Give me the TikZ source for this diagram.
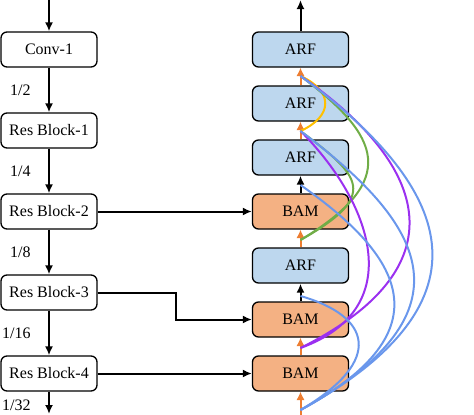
\documentclass[tikz,border=0pt]{standalone}
\usepackage{fontspec}
\setmainfont{Liberation Serif}
\usetikzlibrary{arrows.meta}

\definecolor{arfblue}{HTML}{BDD7EE}
\definecolor{bamorange}{HTML}{F4B183}
\definecolor{fuse}{HTML}{ED7D31}
\definecolor{linkblue}{HTML}{6A97EC}
\definecolor{linkpurple}{HTML}{9B30F0}
\definecolor{linkgreen}{HTML}{70AD47}
\definecolor{linkyellow}{HTML}{FFC000}

\begin{document}
\begin{tikzpicture}[x=1pt, y=-1pt,
  block/.style={draw, line width=1.3pt, rounded corners=6pt, minimum width=96pt,
    minimum height=35pt, inner sep=0pt, font=\fontsize{16}{18}\selectfont},
  arf/.style={block, fill=arfblue},
  bam/.style={block, fill=bamorange},
  flow/.style={line width=2pt, -{Latex[length=9pt,width=8pt]}},
  fuseflow/.style={fuse, line width=2pt, -{Latex[length=8.5pt,width=8.5pt]}},
  link/.style={line width=2pt},
  ratio/.style={left=14pt, font=\fontsize{16}{18}\selectfont}]
\useasboundingbox (0,0) rectangle (474,415);

% backbone
\node[block] (conv) at (49,49.5) {Conv-1};
\node[block] (rb1) at (49,130.5) {Res Block-1};
\node[block] (rb2) at (49,211.5) {Res Block-2};
\node[block] (rb3) at (49,292.5) {Res Block-3};
\node[block] (rb4) at (49,373.5) {Res Block-4};
\coordinate (intop) at (49,0);
\coordinate (outbot) at (49,414);

% decoder
\node[arf] (arfa) at (300.5,49.5) {ARF};
\node[arf] (arfb) at (300.5,103.5) {ARF};
\node[arf] (arfc) at (300.5,157.5) {ARF};
\node[bam] (bama) at (300.5,211.5) {BAM};
\node[arf] (arfd) at (300.5,265.5) {ARF};
\node[bam] (bamb) at (300.5,319.5) {BAM};
\node[bam] (bamc) at (300.5,373.5) {BAM};
\coordinate (outtop) at (300.5,0);
\coordinate (inbot) at (300.5,416);

\draw[flow] (intop) -- (conv);
\draw[flow] (conv) -- node[ratio] {1/2} (rb1);
\draw[flow] (rb1) -- node[ratio] {1/4} (rb2);
\draw[flow] (rb2) -- node[ratio] {1/8} (rb3);
\draw[flow] (rb3) -- node[ratio] {1/16} (rb4);
\draw[flow] (rb4) -- node[ratio, pos=0.6] {1/32} (outbot);

\draw[flow] (rb2) -- (bama);
\draw[flow] (rb3.east) -- ++(78,0) |- (bamb.west);
\draw[flow] (rb4) -- (bamc);

\draw[flow] (arfa) -- (outtop);
\draw[fuseflow] (arfb) -- (arfa);
\draw[fuseflow] (arfc) -- (arfb);
\draw[flow] (bama) -- (arfc);
\draw[fuseflow] (arfd) -- (bama);
\draw[flow] (bamb) -- (arfd);
\draw[fuseflow] (bamc) -- (bamb);
\draw[fuseflow] (inbot) -- (bamc);

% skip links
\coordinate (p1) at (300.5,76);
\coordinate (p2) at (300.5,131);
\coordinate (p3) at (300.5,185);
\coordinate (p4) at (300.5,240);
\coordinate (p5) at (300.5,296);
\coordinate (p6) at (300.5,348);
\coordinate (p7) at (300.5,410);

\draw[link, linkyellow] (p2) .. controls +(33,-15) and +(33,15) .. (p1);
\draw[link, linkgreen] (p1) .. controls +(80,60) and +(100,-60) .. (p4);
\draw[link, linkgreen] (p2) .. controls +(60,45) and +(80,-45) .. (p4);
\draw[link, linkpurple] (p1) .. controls +(130,90) and +(160,-80) .. (p6);
\draw[link, linkpurple] (p2) .. controls +(70,70) and +(110,-40) .. (p6);
\draw[link, linkblue] (p1) .. controls +(150,110) and +(200,-110) .. (p7);
\draw[link, linkblue] (p2) .. controls +(120,90) and +(180,-100) .. (p7);
\draw[link, linkblue] (p3) .. controls +(100,70) and +(148,-80) .. (p7);
\draw[link, linkblue] (p5) .. controls +(70,20) and +(85,-50) .. (p7);

\end{tikzpicture}
\end{document}
